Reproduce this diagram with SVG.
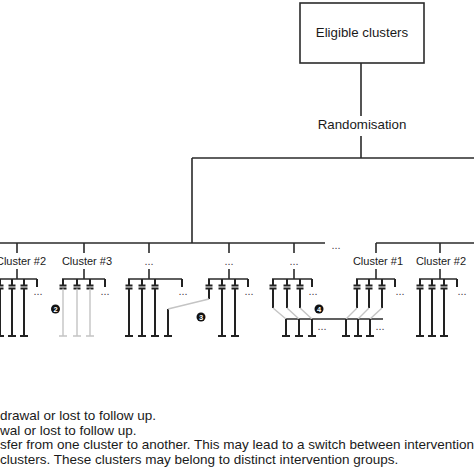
<svg xmlns="http://www.w3.org/2000/svg" xmlns:xlink="http://www.w3.org/1999/xlink" width="474" height="474" viewBox="0 0 474 474">
<style>
.ln{stroke:#2b2b2b;stroke-width:1.6;fill:none}
.lf{stroke:#222;stroke-width:2;fill:none}
.gr{stroke:#c4c4c4;stroke-width:1.4;fill:none}
.t{font-family:"Liberation Sans",Arial,sans-serif;fill:#1a1a1a}
.big{font-size:13.3px}
.lg{font-size:13.5px}
.cl{font-size:11px;text-anchor:middle}
.dots{font-size:11px;text-anchor:middle;fill:#444}
.mk{fill:#111}
.mkt{font-family:"Liberation Sans",Arial,sans-serif;font-size:7.5px;font-weight:bold;fill:#fff;text-anchor:middle}
</style>
<defs>
<path id="cap" class="lf" d="M0,0V6.5M-3.5,6.5H3.5M-3.5,9.5H3.5"/>
<path id="leaf" class="lf" d="M0,0V6.5M-3.5,6.5H3.5M-3.5,9.5H3.5M0,9.5V57M-4,57H4"/>
<path id="stub" class="lf" d="M0,0V8"/>
</defs>
<rect width="474" height="474" fill="#fff"/>

<g id="eligible">
<rect x="300" y="3" width="124" height="60" fill="#fff" stroke="#2b2b2b" stroke-width="1.6"/>
<text class="t big" x="362" y="37" text-anchor="middle">Eligible clusters</text>
</g>
<g id="randomisation">
<text class="t big" x="362" y="129" text-anchor="middle">Randomisation</text>
</g>

<g id="connectors">
<path class="ln" d="M361,63V116M361,136V158M192,158H474M192,158V243M0,243H325M376,243H474"/>
<path class="ln" d="M17,243V253M84,243V253M149,243V253M229,243V253M294,243V253M376,243V253M440,243V253"/>
<path class="ln" d="M17,269V279M84,269V279M149,269V279M229,269V279M294,269V279M376,269V279M440,269V279"/>
<path class="ln" d="M0,279H37M62,279H105M128,279H182M208,279H248M272,279H312M356,279H395M419,279H457"/>
<path class="ln" d="M285,319H383"/>
<text class="t dots" x="336" y="249">...</text>
</g>

<g id="cluster2-left">
<text class="t cl" x="21" y="265">Cluster #2</text>
<use href="#leaf" x="0" y="279"/>
<use href="#leaf" x="12" y="279"/>
<use href="#leaf" x="24" y="279"/>
<use href="#stub" x="37" y="279"/>
<text class="t dots" x="38" y="295">...</text>
</g>

<g id="cluster3">
<text class="t cl" x="87" y="265">Cluster #3</text>
<use href="#cap" x="63" y="279"/>
<use href="#cap" x="77" y="279"/>
<use href="#cap" x="90" y="279"/>
<path class="gr" d="M63,288.5V336M59,336H67M77,288.5V336M73,336H81M90,288.5V336M86,336H94"/>
<use href="#stub" x="105" y="279"/>
<text class="t dots" x="105" y="295">...</text>
<circle class="mk" cx="55.5" cy="309" r="4.5"/>
<text class="mkt" x="55.5" y="311.8">2</text>
</g>

<g id="cluster-a">
<text class="t dots" x="149" y="265">...</text>
<use href="#leaf" x="129" y="279"/>
<use href="#leaf" x="142" y="279"/>
<use href="#leaf" x="155" y="279"/>
<use href="#stub" x="182" y="279"/>
<text class="t dots" x="183" y="295">...</text>
<path class="lf" d="M168,309V336M164,336H172"/>
</g>

<g id="cluster-b">
<text class="t dots" x="229" y="265">...</text>
<use href="#cap" x="209" y="279"/>
<path class="lf" d="M209,288.5V299"/>
<use href="#leaf" x="222" y="279"/>
<use href="#leaf" x="235" y="279"/>
<use href="#stub" x="248" y="279"/>
<text class="t dots" x="249" y="295">...</text>
<path class="gr" d="M209,299L168,309"/>
<circle class="mk" cx="201" cy="317" r="4.5"/>
<text class="mkt" x="201" y="319.8">3</text>
</g>

<g id="cluster-c">
<text class="t dots" x="294" y="265">...</text>
<use href="#cap" x="273" y="279"/>
<use href="#cap" x="287" y="279"/>
<use href="#cap" x="300" y="279"/>
<path class="lf" d="M273,288.5V308M287,288.5V308M300,288.5V308"/>
<use href="#stub" x="312" y="279"/>
<text class="t dots" x="313" y="295">...</text>
<path class="gr" d="M273,308L286,319M287,308L299,319M300,308L312,319"/>
<path class="lf" d="M286,319V336M282,336H290M299,319V336M295,336H303M312,319V336M308,336H316"/>
<text class="t dots" x="322" y="330">...</text>
<circle class="mk" cx="319" cy="309" r="4.5"/>
<text class="mkt" x="319" y="311.8">4</text>
</g>

<g id="cluster1">
<text class="t cl" x="378" y="265">Cluster #1</text>
<use href="#cap" x="357" y="279"/>
<use href="#cap" x="369" y="279"/>
<use href="#cap" x="382" y="279"/>
<path class="lf" d="M357,288.5V308M369,288.5V308M382,288.5V308"/>
<use href="#stub" x="395" y="279"/>
<text class="t dots" x="400" y="295">...</text>
<path class="gr" d="M357,308L346,319M369,308L358,319M382,308L370,319"/>
<path class="lf" d="M346,319V336M342,336H350M358,319V336M354,336H362M370,319V336M366,336H374"/>
<text class="t dots" x="380" y="330">...</text>
</g>

<g id="cluster2-right">
<text class="t cl" x="441" y="265">Cluster #2</text>
<use href="#leaf" x="420" y="279"/>
<use href="#leaf" x="432" y="279"/>
<use href="#leaf" x="444" y="279"/>
<use href="#stub" x="457" y="279"/>
<text class="t dots" x="462" y="295">...</text>
</g>

<g id="legend" class="t lg">
<text x="0" y="420">drawal or lost to follow up.</text>
<text x="0" y="434.5">wal or lost to follow up.</text>
<text x="0" y="449">sfer from one cluster to another. This may lead to a switch between intervention</text>
<text x="0" y="463.5">clusters. These clusters may belong to distinct intervention groups.</text>
</g>
</svg>
